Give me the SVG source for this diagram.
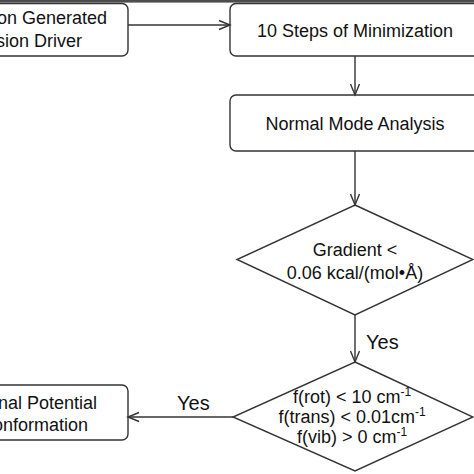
<svg xmlns="http://www.w3.org/2000/svg" width="474" height="474" viewBox="0 0 474 474">
<defs>
<style>
.box{fill:#fff;stroke:#333;stroke-width:1.4}
.t{font-family:"Liberation Sans",Arial,sans-serif;font-size:18px;fill:#111}
.m{text-anchor:middle}
.e{text-anchor:end}
.y{font-family:"Liberation Sans",Arial,sans-serif;font-size:20px;fill:#111}
.c{stroke:#333;stroke-width:1.4;fill:none}
</style>
<marker id="ah" markerUnits="userSpaceOnUse" markerWidth="14" markerHeight="12" viewBox="0 0 14 12" refX="12" refY="6" orient="auto">
<path d="M1,1.5 L12,6 L1,10.5" fill="none" stroke="#333" stroke-width="1.4"/>
</marker>
</defs>
<rect x="0" y="0" width="474" height="2.6" fill="#4d4d4d"/>
<g id="node-driver">
<rect class="box" x="-10" y="3.5" width="138" height="52.5" rx="6"/>
<text class="t e" x="107" y="24">on Generated</text>
<text class="t e" x="82" y="47">sion Driver</text>
</g>
<g id="node-minimization">
<rect class="box" x="230" y="3.5" width="260" height="52.5" rx="6"/>
<text class="t m" x="355" y="36.5">10 Steps of Minimization</text>
</g>
<g id="node-nma">
<rect class="box" x="230" y="95" width="260" height="56" rx="6"/>
<text class="t m" x="355" y="129.5">Normal Mode Analysis</text>
</g>
<g id="node-gradient">
<polygon class="box" points="355,205 473,259.5 355,315 237,259.5"/>
<text class="t m" x="355" y="256">Gradient &lt;</text>
<text class="t m" x="355" y="278.5">0.06 kcal/(mol•Å)</text>
</g>
<g id="node-freq">
<polygon class="box" points="355,362 473,417 355,471 233,417"/>
<text class="t m" x="352" y="402.5">f(rot) &lt; 10 cm<tspan font-size="12" dy="-7">-1</tspan></text>
<text class="t m" x="352" y="422.5">f(trans) &lt; 0.01cm<tspan font-size="12" dy="-7">-1</tspan></text>
<text class="t m" x="352" y="442.5">f(vib) &gt; 0 cm<tspan font-size="12" dy="-7">-1</tspan></text>
</g>
<g id="node-final">
<rect class="box" x="-10" y="385" width="138" height="55" rx="6"/>
<text class="t e" x="97" y="409">nal Potential</text>
<text class="t e" x="88" y="431">onformation</text>
</g>
<g id="connectors">
<line class="c" x1="128" y1="25" x2="230" y2="25" marker-end="url(#ah)"/>
<line class="c" x1="355" y1="56" x2="355" y2="95" marker-end="url(#ah)"/>
<line class="c" x1="355" y1="151" x2="355" y2="205" marker-end="url(#ah)"/>
<line class="c" x1="355" y1="315" x2="355" y2="362" marker-end="url(#ah)"/>
<line class="c" x1="233" y1="417" x2="128" y2="417" marker-end="url(#ah)"/>
<text class="y" x="366" y="349">Yes</text>
<text class="y" x="177" y="410">Yes</text>
</g>
</svg>
